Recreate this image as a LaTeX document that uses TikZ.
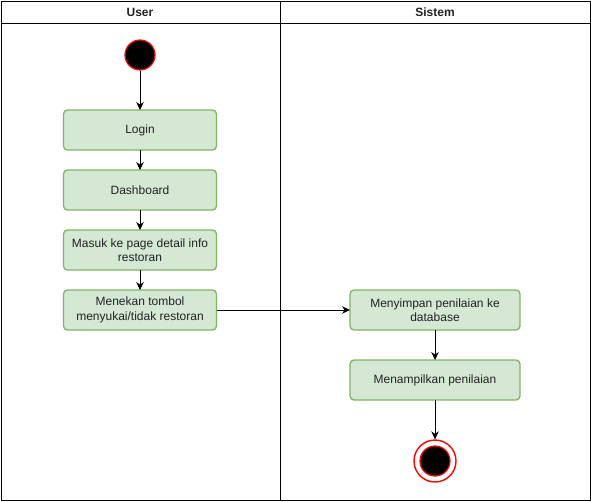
\documentclass[tikz,border=0pt]{standalone}
\usepackage{fontspec}
\setmainfont{Liberation Sans}
\usepackage{xcolor}
\usepackage{tikz}
\usetikzlibrary{positioning}
\usetikzlibrary{arrows.meta}
\usetikzlibrary{shapes.geometric}

\definecolor{actfill}{HTML}{D5E8D4}
\definecolor{actline}{HTML}{82B366}
\definecolor{acttext}{HTML}{222222}

\begin{document}
\begin{tikzpicture}[
	x=1pt, y=-1pt,
	node distance=20pt,
	font=\fontsize{12}{14.5}\selectfont,
	>={Stealth[length=8pt,width=7.5pt]}
]
\tikzset{
    activity/.style = {rectangle, rounded corners=4pt, draw=actline, fill=actfill, text=acttext, line width=1.3pt, align=center, minimum width=153pt, minimum height=40pt, inner sep=1pt, outer sep=0pt},
    startstate/.style = {circle, draw=red, fill=black, line width=1.2pt, minimum size=30pt, inner sep=0pt},
    endring/.style = {circle, draw=red, line width=1.4pt, minimum size=42pt, inner sep=0pt},
    lanehead/.style = {font=\fontsize{12}{14.5}\selectfont\bfseries, text=acttext},
    flow/.style = {->, line width=0.8pt},
}
\useasboundingbox (0,0) rectangle (591,501);
% swimlanes
\draw[line width=1pt] (1,1) rectangle (590,500);
\draw[line width=1pt] (1,23) -- (590,23);
\draw[line width=1pt] (280.5,1) -- (280.5,500);
\node[lanehead] (userlane) at (140,12) {User};
\node[lanehead] (sistemlane) at (435,12) {Sistem};

% user lane
\node[startstate] (start) at (140,55) {};
\node[activity] (login) at (140,130) {Login};
\node[activity, below=of login] (dashboard) {Dashboard};
\node[activity, below=of dashboard] (detail) {Masuk ke page detail info\\restoran};
\node[activity, below=of detail] (tombol) {Menekan tombol\\menyukai/tidak restoran};

% sistem lane
\node[activity, minimum width=170pt] (simpan) at (435,310) {Menyimpan penilaian ke\\database};
\node[activity, minimum width=170pt, below=30pt of simpan] (tampil) {Menampilkan penilaian};
\node[endring] (stop) at (435,461) {};
\node[startstate] (stopdot) at (stop) {};

\draw[flow] (start) -- (login);
\draw[flow] (login) -- (dashboard);
\draw[flow] (dashboard) -- (detail);
\draw[flow] (detail) -- (tombol);
\draw[flow] (tombol.east) -- (simpan.west);
\draw[flow] (simpan) -- (tampil);
\draw[flow] (tampil) -- (stop);
\end{tikzpicture}
\end{document}
